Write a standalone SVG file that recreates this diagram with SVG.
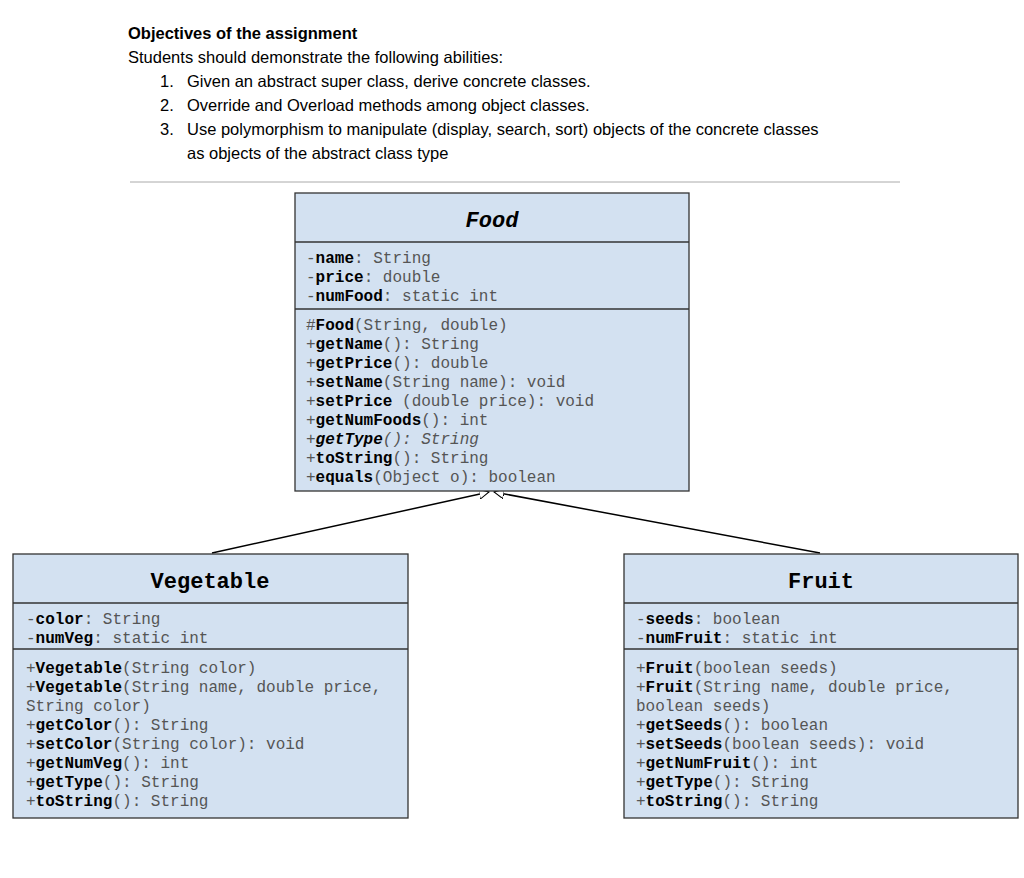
<svg xmlns="http://www.w3.org/2000/svg" width="1024" height="878" viewBox="0 0 1024 878">
<style>
.h{font-family:"Liberation Sans",Arial,sans-serif;font-size:16.5px;fill:#000}
.m{font-family:"Liberation Mono","Courier New",monospace;font-size:16px;fill:#555}
.m tspan.b{font-weight:bold;fill:#000}
.t{font-family:"Liberation Mono","Courier New",monospace;font-size:22px;font-weight:bold;fill:#000}
.box{fill:#d3e1f1;stroke:#333;stroke-width:1.3}
.div{stroke:#333;stroke-width:1.5}
</style>
<rect width="1024" height="878" fill="#fff"/>
<text class="h" x="128" y="39" font-weight="bold">Objectives of the assignment</text>
<text class="h" x="128" y="63">Students should demonstrate the following abilities:</text>
<text class="h" x="160" y="87">1.</text><text class="h" x="187" y="87">Given an abstract super class, derive concrete classes.</text>
<text class="h" x="160" y="111">2.</text><text class="h" x="187" y="111">Override and Overload methods among object classes.</text>
<text class="h" x="160" y="135">3.</text><text class="h" x="187" y="135">Use polymorphism to manipulate (display, search, sort)  objects of the concrete classes</text>
<text class="h" x="187" y="159">as objects of the abstract class type</text>
<line x1="130" y1="182" x2="900" y2="182" stroke="#aaa" stroke-width="1"/>
<defs><marker id="tri" markerWidth="12" markerHeight="10" refX="10" refY="5" orient="auto" markerUnits="userSpaceOnUse"><path d="M0,0 L10,5 L0,10 Z" fill="#fff" stroke="#000" stroke-width="1"/></marker></defs>
<g id="connectors" stroke="#000" stroke-width="1.5" fill="none">
<line x1="212" y1="553" x2="489" y2="492" marker-end="url(#tri)"/>
<line x1="820" y1="553" x2="494" y2="492" marker-end="url(#tri)"/>
</g>
<g id="food">
<rect class="box" x="295" y="193" width="394" height="298"/>
<line class="div" x1="295" y1="242" x2="689" y2="242"/>
<line class="div" x1="295" y1="309" x2="689" y2="309"/>
<text class="t" x="492" y="227" text-anchor="middle" font-style="italic">Food</text>
<text class="m" x="306" y="263">-<tspan class="b">name</tspan>: String</text>
<text class="m" x="306" y="282">-<tspan class="b">price</tspan>: double</text>
<text class="m" x="306" y="301">-<tspan class="b">numFood</tspan>: static int</text>
<text class="m" x="306" y="330">#<tspan class="b">Food</tspan>(String, double)</text>
<text class="m" x="306" y="349">+<tspan class="b">getName</tspan>(): String</text>
<text class="m" x="306" y="368">+<tspan class="b">getPrice</tspan>(): double</text>
<text class="m" x="306" y="387">+<tspan class="b">setName</tspan>(String name): void</text>
<text class="m" x="306" y="406">+<tspan class="b">setPrice</tspan> (double price): void</text>
<text class="m" x="306" y="425">+<tspan class="b">getNumFoods</tspan>(): int</text>
<text class="m" x="306" y="444" font-style="italic">+<tspan class="b">getType</tspan>(): String</text>
<text class="m" x="306" y="463">+<tspan class="b">toString</tspan>(): String</text>
<text class="m" x="306" y="482">+<tspan class="b">equals</tspan>(Object o): boolean</text>
</g>
<g id="vegetable">
<rect class="box" x="13" y="554" width="395" height="264"/>
<line class="div" x1="13" y1="603" x2="408" y2="603"/>
<line class="div" x1="13" y1="649" x2="408" y2="649" stroke-width="2.5"/>
<text class="t" x="210" y="588" text-anchor="middle">Vegetable</text>
<text class="m" x="26" y="624">-<tspan class="b">color</tspan>: String</text>
<text class="m" x="26" y="643">-<tspan class="b">numVeg</tspan>: static int</text>
<text class="m" x="26" y="673">+<tspan class="b">Vegetable</tspan>(String color)</text>
<text class="m" x="26" y="692">+<tspan class="b">Vegetable</tspan>(String name, double price,</text>
<text class="m" x="26" y="711">String color)</text>
<text class="m" x="26" y="730">+<tspan class="b">getColor</tspan>(): String</text>
<text class="m" x="26" y="749">+<tspan class="b">setColor</tspan>(String color): void</text>
<text class="m" x="26" y="768">+<tspan class="b">getNumVeg</tspan>(): int</text>
<text class="m" x="26" y="787">+<tspan class="b">getType</tspan>(): String</text>
<text class="m" x="26" y="806">+<tspan class="b">toString</tspan>(): String</text>
</g>
<g id="fruit">
<rect class="box" x="624" y="554" width="394" height="264"/>
<line class="div" x1="624" y1="603" x2="1018" y2="603"/>
<line class="div" x1="624" y1="649" x2="1018" y2="649" stroke-width="2.5"/>
<text class="t" x="821" y="588" text-anchor="middle">Fruit</text>
<text class="m" x="636" y="624">-<tspan class="b">seeds</tspan>: boolean</text>
<text class="m" x="636" y="643">-<tspan class="b">numFruit</tspan>: static int</text>
<text class="m" x="636" y="673">+<tspan class="b">Fruit</tspan>(boolean seeds)</text>
<text class="m" x="636" y="692">+<tspan class="b">Fruit</tspan>(String name, double price,</text>
<text class="m" x="636" y="711">boolean seeds)</text>
<text class="m" x="636" y="730">+<tspan class="b">getSeeds</tspan>(): boolean</text>
<text class="m" x="636" y="749">+<tspan class="b">setSeeds</tspan>(boolean seeds): void</text>
<text class="m" x="636" y="768">+<tspan class="b">getNumFruit</tspan>(): int</text>
<text class="m" x="636" y="787">+<tspan class="b">getType</tspan>(): String</text>
<text class="m" x="636" y="806">+<tspan class="b">toString</tspan>(): String</text>
</g>
</svg>
